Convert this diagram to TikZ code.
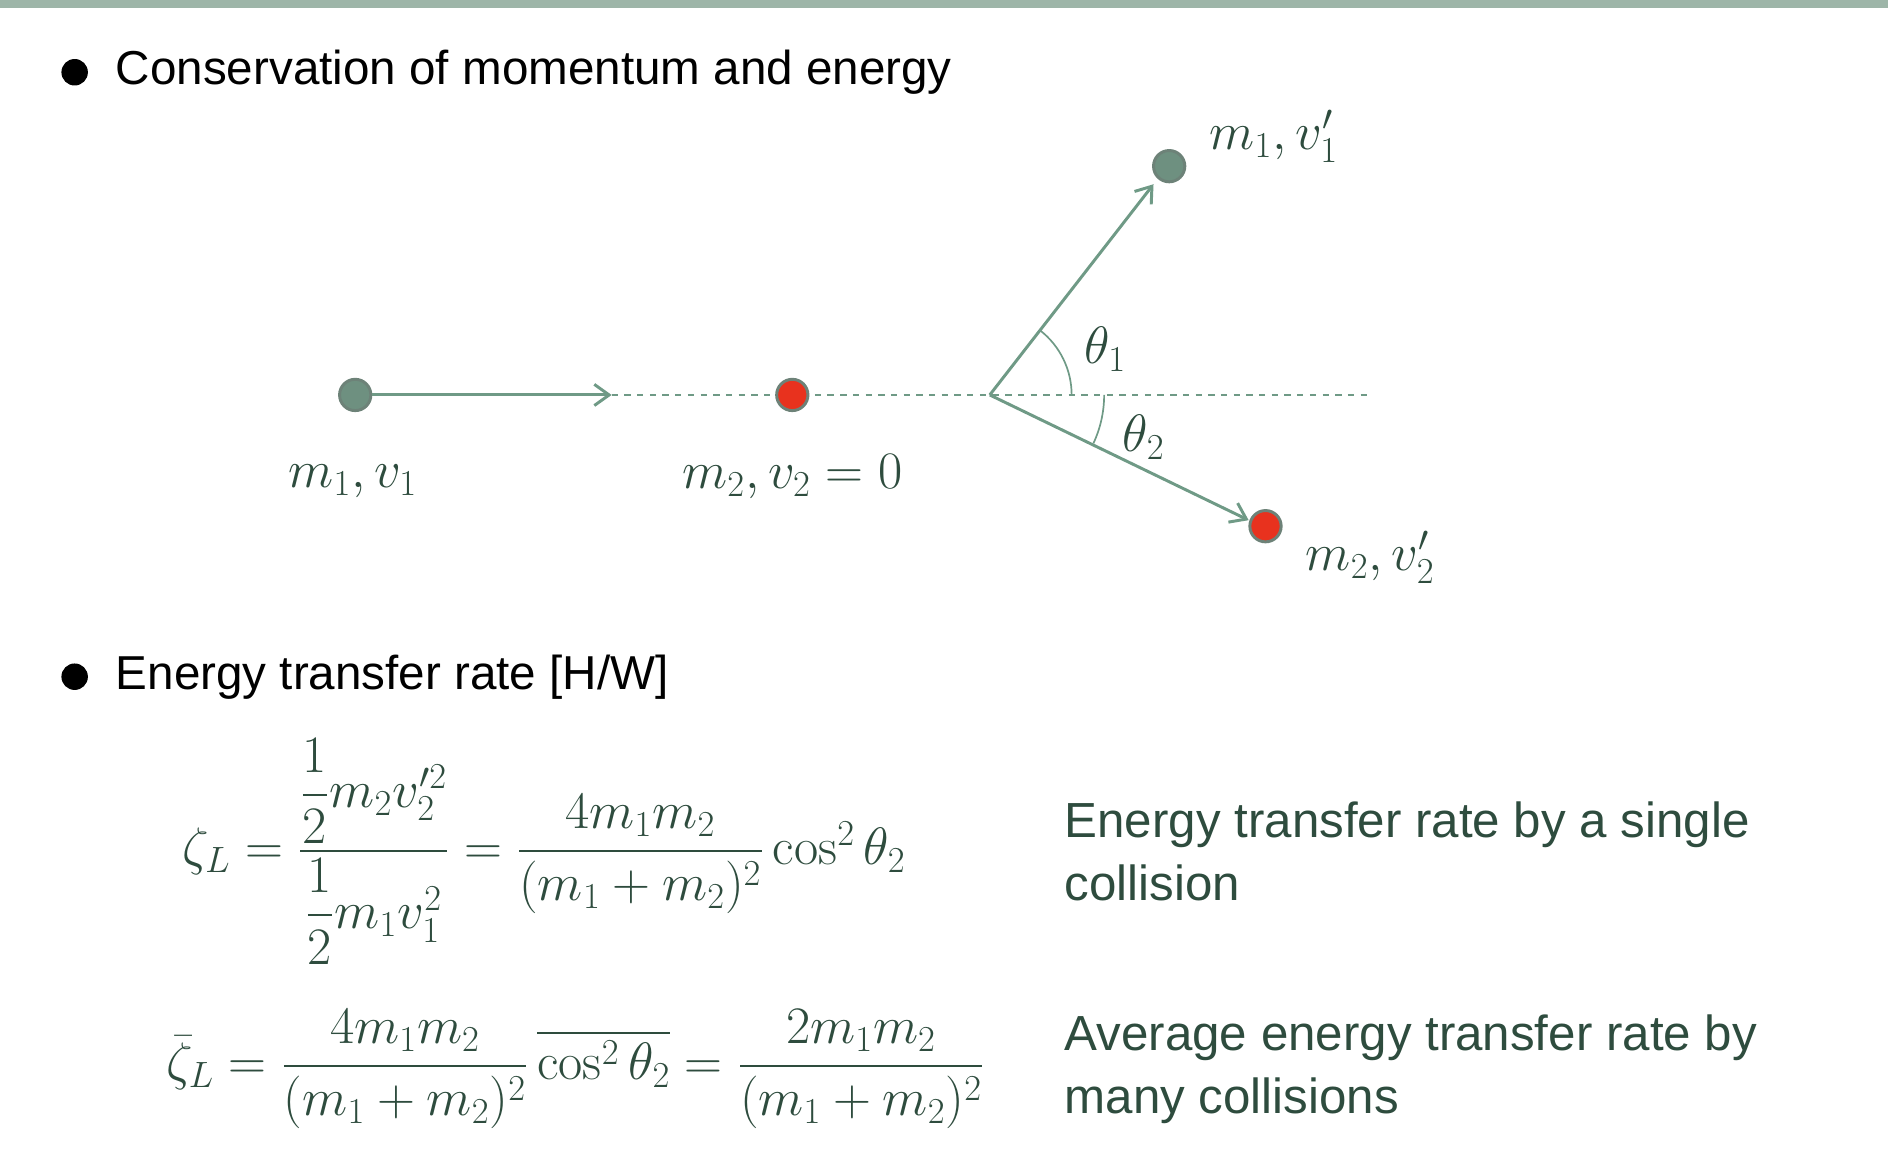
\documentclass[tikz,border=0pt]{standalone}
\usepackage{amsmath}
\usepackage[no-math]{fontspec}
\setmainfont{Liberation Sans}
\usetikzlibrary{arrows.meta,calc}
\definecolor{gline}{HTML}{6F9A86}
\definecolor{gdot}{HTML}{6E9080}
\definecolor{rdot}{HTML}{E8321E}
\definecolor{dtext}{HTML}{2E4C3E}
\definecolor{topbar}{HTML}{9DB5A8}
\tikzset{
  px/.style={x=0.02cm,y=-0.02cm},
  gball/.style={circle,draw=dtext!70,line width=1.4pt,fill=gdot,minimum size=0.52cm,inner sep=0},
  rball/.style={circle,draw=dtext!70,line width=1.4pt,fill=rdot,minimum size=0.52cm,inner sep=0},
  vec/.style={draw=gline,line width=1.4pt,-{Straight Barb[length=7pt,width=10pt]}},
  lbl/.style={text=dtext,font=\fontsize{23}{27}\selectfont},
  eq/.style={text=dtext,font=\fontsize{24}{28}\selectfont},
  btxt/.style={anchor=west,font=\fontsize{22.5}{27}\selectfont},
  rtxt/.style={anchor=west,align=left,text=dtext,font=\fontsize{23.3}{30}\selectfont},
  bul/.style={circle,fill=black,minimum size=0.44cm,inner sep=0}
}
\begin{document}
\begin{tikzpicture}[px]
\useasboundingbox (0,0) rectangle (1568,975);
\fill[topbar] (0,0) rectangle (1568,7);
\node[bul] (b1) at (62,60) {};
\node[btxt] (t1) at (90,60) {Conservation of momentum and energy};
\node[bul] (b2) at (62,562) {};
\node[btxt] (t2) at (90,562) {Energy transfer rate [H/W]};
% collision
\coordinate (o) at (822,328);
\coordinate (aend) at (508,328);
\coordinate (dend) at (1138,328);
\draw[gline,line width=0.8pt,dashed] (aend) -- (dend);
\node[gball] (d1) at (295,328) {};
\node[rball] (d2) at (658,328) {};
\node[gball] (d3) at (971,138) {};
\node[rball] (d4) at (1051,437) {};
\draw[vec] (d1) -- (aend);
\draw[vec] (o) -- (958,153);
\draw[vec] (o) -- (1037,432);
\draw[gline,line width=0.8pt] ($(o)+(68,0)$) arc[start angle=0,end angle=52,radius=1.36cm];
\draw[gline,line width=0.8pt] ($(o)+(95,0)$) arc[start angle=0,end angle=-25,radius=1.9cm];
\node[lbl] (l1) at (293,400) {$m_1, v_1$};
\node[lbl] (l2) at (658,396) {$m_2, v_2=0$};
\node[lbl] (l3) at (1058,113) {$m_1, v_1'$};
\node[lbl] (l4) at (1138,463) {$m_2, v_2'$};
\node[lbl] (th1) at (918,290) {$\theta_1$};
\node[lbl] (th2) at (950,363) {$\theta_2$};
% equations
\node[eq] (e1) at (452,707) {$\zeta_L=\dfrac{\dfrac12 m_2 v_2'^2}{\dfrac12 m_1 v_1^2}=\dfrac{4m_1m_2}{(m_1+m_2)^2}\cos^2\theta_2$};
\node[eq] (e2) at (478,888) {$\bar\zeta_L=\dfrac{4m_1m_2}{(m_1+m_2)^2}\,\overline{\cos^2\theta_2}=\dfrac{2m_1m_2}{(m_1+m_2)^2}$};
\node[rtxt] (r1) at (878,707) {Energy transfer rate by a single\\collision};
\node[rtxt] (r2) at (878,888) {Average energy transfer rate by\\many collisions};
\end{tikzpicture}
\end{document}
